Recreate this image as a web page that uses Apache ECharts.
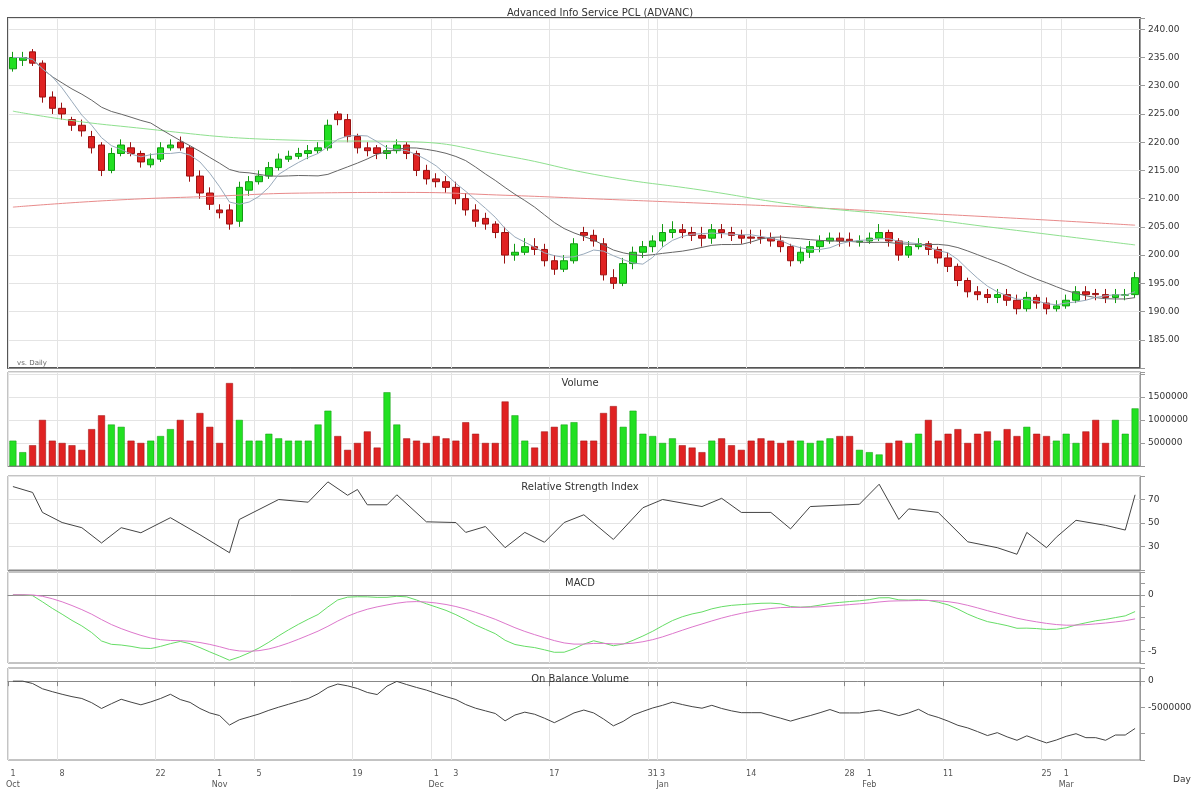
<!DOCTYPE html>
<html><head><meta charset="utf-8">
<script src="https://cdn.jsdelivr.net/npm/echarts@6/dist/echarts.min.js"></script>
<style>html,body{margin:0;padding:0;background:#fff}#c{width:1200px;height:790px}</style>
</head><body><div id="c"></div>
<script>
const closes=[235,235,234,228,226,225,223,222,219,215,
218,219.5,218,216.5,217,219,219.5,219,214,211,
209,207.5,205.5,212,213,214,215.5,217,217.5,218,
218.5,219,223,224,221,219,218.5,218,218.5,219.5,
218,215,213.5,213,212,210,208,206,205.5,204,
200,200.5,201.5,201,199,197.5,199,202,203.5,202.5,
196.5,195,198.5,200.5,201.5,202.5,204,204.5,204,203.5,
203,204.5,204,203.5,203,203,203,202.5,201.5,199,
200.5,201.5,202.5,203,202.5,202.5,202.5,203,204,202.5,
200,201.5,202,201,199.5,198,195.5,193.5,193,192.5,
193,192,190.5,192.5,191.5,190.5,191,192,193.5,193,
193,192.5,193,193,196];
const opens=[233,234.5,236,234,228,226,224,223,221,219.5,
215,218,219,218,216,217,219,220,219,214,
211,208,208,206,211.5,213,214,215.5,217,217.5,
218,218.5,219,225,224,221,219,219,218,218.5,
219.5,218,215,213.5,213,212,210,208,206.5,205.5,
204,200,200.5,201.5,201,199,197.5,199,204,203.5,
202,196,195,198.5,200.5,201.5,202.5,204,204.5,204,
203.5,203,204.5,204,203.5,203.2,203.1,203,202.5,201.5,
199,200.5,201.5,202.5,203,202.8,202.3,202.5,203,204,
202.5,200,201.5,202,201,199.5,198,195.5,193.5,193,
192.5,193,192,190.5,192.5,191.5,190.5,191,192,193.5,
193.2,193,192.5,192.9,193];
const highs=[236,236,236.5,234.5,229,227,224.5,224,222,220,
219,220.5,220,218.5,218,220,220.5,221,219.5,215,
212,209,209,213,214,215,216.5,218,218.5,219,
219.5,220,224,225.5,225,221.5,220,219.5,219.5,220.5,
220,218.5,216,214.5,214,213,211,209,207.5,206,
205,202,203,203,202,200,200,203,205,204.5,
203,197.5,199.5,201.5,202.5,203.5,205.5,206,205.5,205,
205,205.5,205.5,205,204.5,204.5,204.5,204,203.5,202,
201.5,202.5,203.5,204,204,204,203.5,204,205.5,204.5,
203,202.5,203,202.5,201.5,200.5,198.5,196,194.5,194,
194,194,193,193.5,193,192.5,192,193,194.5,194.5,
194,194,194,194,197];
const lows=[232.5,233.5,233.5,227,225,224,222,221,218,214,
214.5,217.5,217.5,215.5,215.5,216.5,218.5,218.5,213,210,
208,206.5,204.5,205,210.5,212.5,213.5,215,216.5,217,
217,218,218.5,223,220,218,217.5,217,217,218,
217,214,212.5,212,211,209,207,205,204.5,203,
198.5,199,200,200,198,196.5,197,198.5,202.5,201.5,
195.5,194,194.5,197.5,199.5,200.5,201.5,203,203,202.5,
201.5,202,203,202.5,202,202,202,201.5,200.5,198,
198.5,199.5,200.5,202,201.5,201.5,201.5,202,202.5,201.5,
199,199.5,201,200,198.5,197,194.5,192.5,192,191.5,
191.5,191,189.5,190,190.5,189.5,190,190.5,191.5,192,
192,191.5,191.5,192,192.5];
const volumesK=[550,300,450,1000,550,500,450,350,800,1100,
900,850,550,500,550,650,800,1000,550,1150,
850,500,1800,1000,550,550,700,600,550,550,
550,900,1200,650,350,500,750,400,1600,900,
600,550,500,650,600,550,950,700,500,500,
1400,1100,550,400,750,850,900,950,550,550,
1150,1300,850,1200,700,650,500,600,450,400,
300,550,600,450,350,550,600,550,500,550,
550,500,550,600,650,650,350,300,250,500,
550,500,700,1000,550,700,800,500,700,750,
550,800,650,850,700,650,550,700,500,750,
1000,500,1000,700,1250];
const rsiPts=[[0,81],[2,76],[3,59],[5,50.4],[7,46],[9,33],[11,46],[13,41.7],[16,54.5],[19,40],[22,24.7],[23,53],[25,61.5],[27,70],[30,67.7],[32,85],[34,73.6],[35,78.5],[36,65.5],[38,65.5],[39,74],[42,51],[45,50.4],[46,42],[48,47],[50,29],[52,42],[54,33.6],[56,50.4],[58,57],[61,36],[64,63],[66,70],[70,64],[72,71],[74,59],[77,59],[79,45],[81,64],[86,66],[88,83],[90,53],[91,62],[94,59],[97,34],[100,29],[102,23.4],[103,42],[105,29],[106,37.9],[108,52.3],[111,48],[113,44],[114,74]];
const ma50Pts=[[0,225.5],[10,223],[30,220.3],[40,220.1],[50,217.6],[60,214],[70,211.5],[80,208.8],[90,207],[100,204.8],[114,201.8]];
const ma200Pts=[[0,208.5],[10,209.7],[20,210.4],[30,211],[40,211.1],[50,210.6],[60,209.9],[70,209.2],[80,208.5],[90,207.6],[100,206.7],[114,205.3]];
const titleText='Advanced Info Service PCL (ADVANC)';
const panelTitles=['Volume','Relative Strength Index','MACD','On Balance Volume'];

const dates=[],labels=[];const monthNames=['Jan','Feb','Mar','Apr','May','Jun','Jul','Aug','Sep','Oct','Nov','Dec'];
let d=new Date(2010,9,1);let prevM=-1;
while(dates.length<closes.length){const wd=d.getDay();if(wd!==0&&wd!==6){const m=d.getMonth();dates.push(m!==prevM);labels.push(d.getDate()+(m!==prevM?'\n'+monthNames[m]:''));prevM=m;}d.setDate(d.getDate()+1);}
const showLabel=i=>dates[i]||i%10===5;

const n=closes.length;
const ohlc=closes.map((c,i)=>[opens[i],c,lows[i],highs[i]]);
function sma(p){return closes.map((c,i)=>{const s=Math.max(0,i-p+1);let t=0;for(let k=s;k<=i;k++)t+=closes[k];return +(t/(i-s+1)).toFixed(2);});}
function ema(arr,p){const a=2/(p+1);const out=[];arr.forEach((v,i)=>out.push(i?out[i-1]+a*(v-out[i-1]):v));return out;}
const ma5=sma(5),ma15=sma(15);
const e12=ema(closes,12),e26=ema(closes,26);const macd=e12.map((v,i)=>+(v-e26[i]).toFixed(3));const sig=ema(macd,9).map(v=>+v.toFixed(3));
const obv=[];let o=0;for(let i=0;i<n;i++){if(i>0){if(closes[i]>closes[i-1])o+=volumesK[i]*1000;else if(closes[i]<closes[i-1])o-=volumesK[i]*1000;}obv.push(o);}
const vols=volumesK.map((v,i)=>({value:v*1000,itemStyle:{color:closes[i]>=opens[i]?'#22e022':'#e02222',borderColor:closes[i]>=opens[i]?'#119911':'#991111',borderWidth:0.5}}));

const L=8,W=1132;
const grids=[{left:L,width:W,top:18,height:350},{left:L,width:W,top:372,height:94},{left:L,width:W,top:476,height:94},{left:L,width:W,top:572,height:91},{left:L,width:W,top:668,height:98}];
const font={fontFamily:'DejaVu Sans',fontSize:9,color:'#333'};
const xAxes=grids.map((g,gi)=>({type:'category',gridIndex:gi,data:labels,boundaryGap:true,
 axisLine:{lineStyle:{color:'#888'}},axisTick:{show:gi===4,interval:(i)=>showLabel(i),lineStyle:{color:'#888'}},
 axisLabel:{show:gi===4,interval:(i)=>showLabel(i),...font,fontSize:8,lineHeight:11,color:'#555'},
 splitLine:{show:true,interval:(i)=>showLabel(i),lineStyle:{color:'#e4e4e4'}}}));
const yBase={position:'right',axisLine:{show:true,lineStyle:{color:'#999'}},axisTick:{show:true,lineStyle:{color:'#999'}},splitLine:{lineStyle:{color:'#e4e4e4'}}};
const yAxes=[
 {...yBase,gridIndex:0,min:180,max:242,interval:5,axisLabel:{...font,formatter:v=>(v<185||v>240)?'':v.toFixed(2)}},
 {...yBase,gridIndex:1,min:0,max:2040000,interval:500000,axisLabel:{...font,formatter:v=>(v===0||v>1600000)?'':String(v)}},
 {...yBase,gridIndex:2,min:10,max:90,interval:20,axisLabel:{...font,formatter:v=>(v===10||v===90)?'':String(v)}},
 {...yBase,gridIndex:3,min:-6,max:2,interval:1,splitLine:{show:false},axisLabel:{...font,formatter:v=>(v===0||v===-5)?String(v):''}},
 {...yBase,gridIndex:4,min:-15000000,max:2500000,interval:5000000,splitLine:{show:false},axisLabel:{...font,formatter:v=>(v===0||v===-5000000)?String(v):''}}
];
const titles=[{text:titleText,left:'center',top:3,textStyle:{...font,fontSize:10,fontWeight:'normal'}}];
[372,476,572,668].forEach((t,i)=>titles.push({text:panelTitles[i],left:575,textAlign:'center',top:t+1,textStyle:{...font,fontSize:10,fontWeight:'normal'}}));
titles.push({text:'Day',left:1168,top:770,textStyle:{...font,fontSize:9,fontWeight:'normal'}});
titles.push({text:'vs. Daily',left:12,top:355,textStyle:{...font,fontSize:7,fontWeight:'normal',color:'#666'}});

const option={animation:false,backgroundColor:'#fff',title:titles,grid:grids.map((g,i)=>({...g,show:true,borderColor:i===0?'#555':'#888',borderWidth:i===0?2:1})),
 xAxis:xAxes,yAxis:yAxes,
 series:[
 {type:'line',xAxisIndex:0,yAxisIndex:0,data:ma200Pts,smooth:true,showSymbol:false,lineStyle:{color:'#e88a8a',width:1}},
 {type:'line',xAxisIndex:0,yAxisIndex:0,data:ma50Pts,smooth:true,showSymbol:false,lineStyle:{color:'#8ee08e',width:1}},
 {type:'line',xAxisIndex:0,yAxisIndex:0,data:ma15,showSymbol:false,lineStyle:{color:'#666',width:1}},
 {type:'line',xAxisIndex:0,yAxisIndex:0,data:ma5,showSymbol:false,lineStyle:{color:'#9ab',width:1}},
 {type:'candlestick',xAxisIndex:0,yAxisIndex:0,data:ohlc,barWidth:7,itemStyle:{color:'#22e022',color0:'#e02222',borderColor:'#119911',borderColor0:'#991111',borderWidth:1},
  markLine:{symbol:'none',silent:true,data:[{yAxis:closes[n-1]}],lineStyle:{opacity:0},label:{position:'end',formatter:closes[n-1].toFixed(2),backgroundColor:'#333',color:'#fff',fontSize:9,padding:[2,3],distance:8}}},
 {type:'bar',xAxisIndex:1,yAxisIndex:1,data:vols,barWidth:7},
 {type:'line',xAxisIndex:2,yAxisIndex:2,data:rsiPts,showSymbol:false,lineStyle:{color:'#444',width:1}},
 {type:'line',xAxisIndex:3,yAxisIndex:3,data:macd,showSymbol:false,lineStyle:{color:'#66dd66',width:1}},
 {type:'line',xAxisIndex:3,yAxisIndex:3,data:sig,showSymbol:false,lineStyle:{color:'#dd77cc',width:1}},
 {type:'line',xAxisIndex:4,yAxisIndex:4,data:obv,showSymbol:false,lineStyle:{color:'#444',width:1}}
 ]};
echarts.init(document.getElementById('c')).setOption(option);
</script></body></html>
